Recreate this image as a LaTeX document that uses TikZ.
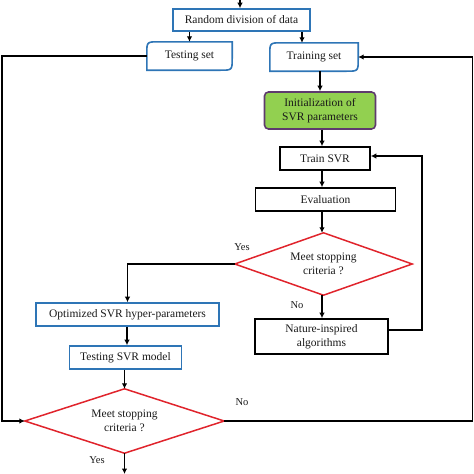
\documentclass[tikz,border=0pt]{standalone}
\usepackage{fontspec}
\setmainfont{Liberation Serif}
\usetikzlibrary{arrows.meta,calc}
\definecolor{bluebd}{HTML}{2E75B6}
\definecolor{redbd}{HTML}{E0242C}
\definecolor{greenfill}{HTML}{92D050}
\definecolor{purplebd}{HTML}{5E3A6E}
\definecolor{txt}{HTML}{1A1A1A}
\begin{document}
\begin{tikzpicture}[x=1pt,y=-1pt,
  every node/.style={font=\fontsize{11.5}{13.5}\selectfont, text=txt, inner sep=0pt, align=center},
  bluebox/.style={draw=bluebd, line width=1.6pt, fill=white},
  blackbox/.style={draw=black, line width=1.6pt, fill=white},
  dia/.style={draw=redbd, line width=1.5pt},
  conn/.style={draw=black, line width=1.5pt},
  arr/.style={conn, -{Latex[length=5.5pt,width=5.5pt]}},
  lab/.style={font=\fontsize{10.5}{12}\selectfont}]
\useasboundingbox (0,0) rectangle (474,474);
% nodes
\node[bluebox, minimum width=137pt, minimum height=22pt] (rand) at (241.5,20) {Random division of data};
\node[minimum width=85pt, minimum height=28pt] (test) at (189.5,56) {Testing set};
\node[minimum width=88pt, minimum height=28pt] (train) at (314,57) {Training set};
\node[draw=purplebd, line width=1.6pt, fill=greenfill, rounded corners=4pt, minimum width=111pt, minimum height=37pt] (init) at (320,110.5) {Initialization of\\SVR parameters};
\node[blackbox, minimum width=90pt, minimum height=23pt] (trsvr) at (325,158.5) {Train SVR};
\node[blackbox, minimum width=140pt, minimum height=23pt] (eval) at (325.5,199.5) {Evaluation};
\node[minimum width=177pt, minimum height=62pt] (d1) at (323.5,264) {Meet stopping\\criteria ?};
\node[blackbox, minimum width=133pt, minimum height=35pt] (nat) at (321.5,336.5) {Nature-inspired\\algorithms};
\node[bluebox, minimum width=183pt, minimum height=23pt] (opt) at (127.5,314.5) {Optimized SVR hyper-parameters};
\node[bluebox, minimum width=112pt, minimum height=23pt] (tsvr) at (125.5,357.5) {Testing SVR model};
\node[minimum width=199pt, minimum height=64pt] (d2) at (124.5,421) {Meet stopping\\criteria ?};
% labels
\node[lab] (yes1) at (242,247) {Yes};
\node[lab] (no1) at (297,305) {No};
\node[lab] (no2) at (242,402) {No};
\node[lab] (yes2) at (97,460) {Yes};
% special shapes
\draw[bluebd, line width=1.6pt] (test.south west) -- ([yshift=-12pt]test.north west) .. controls (test.north west) .. ([xshift=12pt]test.north west) -- (test.north east) -- ([yshift=12pt]test.south east) .. controls (test.south east) .. ([xshift=-12pt]test.south east) -- cycle;
\draw[bluebd, line width=1.6pt] (train.south west) -- ([yshift=-12pt]train.north west) .. controls (train.north west) .. ([xshift=12pt]train.north west) -- (train.north east) -- ([yshift=12pt]train.south east) .. controls (train.south east) .. ([xshift=-12pt]train.south east) -- cycle;
\draw[dia] (d1.north) -- (d1.east) -- (d1.south) -- (d1.west) -- cycle;
\draw[dia] (d2.north) -- (d2.east) -- (d2.south) -- (d2.west) -- cycle;
% coordinates
\coordinate (top) at (240,0);
\coordinate (bot) at (124.5,474);
% connectors
\draw[arr] (top) -- (top |- rand.north);
\draw[arr] (test.north |- rand.south) -- (test.north);
\draw[arr] ([xshift=-12pt]train.north |- rand.south) -- ([xshift=-12pt]train.north);
\draw[arr] (init.north |- train.south) -- (init.north);
\draw[arr] ([xshift=2pt]init.south) -- ([xshift=2pt]init.south |- trsvr.north);
\draw[arr] ([xshift=-3pt]trsvr.south) -- ([xshift=-3pt]trsvr.south |- eval.north);
\draw[arr] ([xshift=-3.5pt]eval.south) -- ([xshift=-3.5pt]eval.south |- d1.north);
\draw[arr] ([xshift=-1.5pt]d1.south) -- ([xshift=-1.5pt]d1.south |- nat.north);
\draw[arr] ([yshift=6.5pt]nat.east) -- ++(33,0) |- ([yshift=2.5pt]trsvr.east);
\draw[arr] (d1.west) -| (opt.north);
\draw[arr] (opt.south -| 127,0) -- (127,0 |- tsvr.north);
\draw[arr] (tsvr.south -| d2.north) -- (d2.north);
\draw[arr] (d2.south) -- (bot);
\draw[arr] (test.west) -- (2,56) |- (d2.west);
\draw[arr] (d2.east) -- (472.5,421) |- (train.east);
\end{tikzpicture}
\end{document}
